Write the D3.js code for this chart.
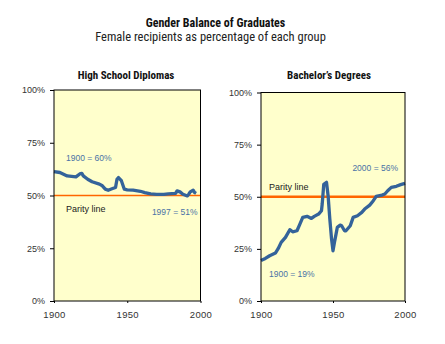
<!DOCTYPE html>
<html><head><meta charset="utf-8">
<script src="https://cdn.jsdelivr.net/npm/d3@7"></script>
<style>
body{margin:0;background:#fff;}
svg{display:block;}
</style></head>
<body>
<svg id="chart" width="445" height="344"></svg>
<script>
const title = "Gender Balance of Graduates";
const subtitle = "Female recipients as percentage of each group";
const yTicks = [0, 25, 50, 75, 100];
const xTicks = [1900, 1950, 2000];
const parity = 50;

const hsYears = [1900,1904,1909,1915,1918,1919,1920,1923,1926,1931,1933,1935,1937,1940,1942,1943,1944,1946,1948,1950,1954,1959,1962,1966,1970,1975,1978,1983,1984,1986,1988,1991,1992,1993,1995,1996,1997];
const hsValues = [61.3,60.9,59.3,58.8,60.4,60.5,59.3,57.7,56.5,55.4,54.6,53,52.5,53.3,53.8,57.7,58.5,57,53,52.7,52.5,52,51.4,50.8,50.5,50.5,50.8,51,52.2,51.7,50.6,49.8,50.6,51.7,52.5,51.4,51];

const baYears = [1900,1903,1906,1910,1912,1914,1917,1920,1922,1925,1927,1929,1932,1935,1937,1940,1942,1942.5,1943.6,1945.5,1946.6,1947.8,1949,1950,1951,1953,1955,1956,1958,1959,1962,1964,1967,1970,1972,1975.5,1978,1980,1984,1986,1988,1990.5,1994,1997,2000];
const baValues = [19.4,20.4,21.7,23,25.2,28.1,30.5,34.2,33.2,33.7,36.9,40.1,40.6,39.6,40.6,41.7,43.3,46.5,56,56.9,50.5,39.3,29.7,24.1,28.1,35.3,36.4,36.1,33.7,33.7,36.1,40.1,40.9,42.5,44.1,46,48.1,50.2,50.8,51.3,52.9,54.5,55,55.8,56.4];

const panels = [
  {name:"High School Diplomas", years:hsYears, values:hsValues, x0:54, x1:200.5, y0:90, y1:301, titleX:126, parityW:1.3,
   notes:[{t:"1900 = 60%", x:66, y:160.5, c:"#4a72a6", a:"start"},
          {t:"Parity line", x:66, y:211.5, c:"#222", a:"start"},
          {t:"1997 = 51%", x:197.5, y:214.5, c:"#4a72a6", a:"end"}]},
  {name:"Bachelor\u2019s Degrees", years:baYears, values:baValues, x0:261, x1:405, y0:92.5, y1:301, titleX:329, parityW:2.6,
   notes:[{t:"2000 = 56%", x:398, y:170.5, c:"#4a72a6", a:"end"},
          {t:"Parity line", x:269, y:189.5, c:"#222", a:"start"},
          {t:"1900 = 19%", x:269, y:276.5, c:"#4a72a6", a:"start"}]}
];

const svg = d3.select("#chart");
const narrow = "'Liberation Sans Narrow','Arial Narrow','Roboto Condensed',sans-serif";
const sans = "'Liberation Sans',Arial,Helvetica,sans-serif";

svg.append("text").attr("x",215.5).attr("y",27).attr("text-anchor","middle")
  .style("font-family",narrow).style("font-weight","bold").style("font-size","12px").attr("fill","#111").text(title);
svg.append("text").attr("x",210.5).attr("y",40.5).attr("text-anchor","middle")
  .style("font-family",narrow).style("font-size","12.5px").attr("fill","#222").text(subtitle);

panels.forEach(p => {
  const x = d3.scaleLinear().domain([1900,2000]).range([p.x0,p.x1]);
  const y = d3.scaleLinear().domain([0,100]).range([p.y1,p.y0]);
  const g = svg.append("g");
  g.append("rect").attr("x",p.x0).attr("y",p.y0).attr("width",p.x1-p.x0).attr("height",p.y1-p.y0)
    .attr("fill","#ffffcc");
  g.append("text").attr("x",p.titleX).attr("y",78.5).attr("text-anchor","middle")
    .style("font-family",narrow).style("font-weight","bold").style("font-size","11px").attr("fill","#111").text(p.name);

  const ya = g.append("g").attr("transform",`translate(${p.x0},0)`)
    .call(d3.axisLeft(y).tickValues(yTicks).tickFormat(d=>d+"%").tickSize(4).tickPadding(5));
  ya.select(".domain").remove();
  ya.selectAll("line").attr("stroke","#000");
  ya.selectAll("text").style("font-family",sans).style("font-size","9px").attr("fill","#333");

  const xa = g.append("g").attr("transform",`translate(0,${p.y1})`)
    .call(d3.axisBottom(x).tickValues(xTicks).tickFormat(d3.format("d")).tickSize(2).tickPadding(8));
  xa.select(".domain").remove();
  xa.selectAll("line").attr("stroke","#000");
  xa.selectAll("text").style("font-family",sans).style("font-size","9.5px").style("letter-spacing","0.3px").attr("fill","#333");

  g.append("line").attr("x1",p.x0).attr("x2",p.x1).attr("y1",y(parity)).attr("y2",y(parity))
    .attr("stroke","#ff6600").attr("stroke-width",p.parityW);

  const data = p.years.map((yr,i)=>[yr,p.values[i]]);
  g.append("path").datum(data)
    .attr("d",d3.line().x(d=>x(d[0])).y(d=>y(d[1])))
    .attr("fill","none").attr("stroke","#34639a").attr("stroke-width",3.3)
    .attr("stroke-linejoin","round").attr("stroke-linecap","butt");

  g.append("rect").attr("x",p.x0).attr("y",p.y0).attr("width",p.x1-p.x0).attr("height",p.y1-p.y0)
    .attr("fill","none").attr("stroke","#000").attr("stroke-width",1);

  p.notes.forEach(n => {
    g.append("text").attr("x",n.x).attr("y",n.y).attr("text-anchor",n.a)
      .style("font-family",sans).style("font-size", n.c==="#222" ? "9px" : "8.5px")
      .attr("fill",n.c).text(n.t);
  });
});
</script>
</body></html>
